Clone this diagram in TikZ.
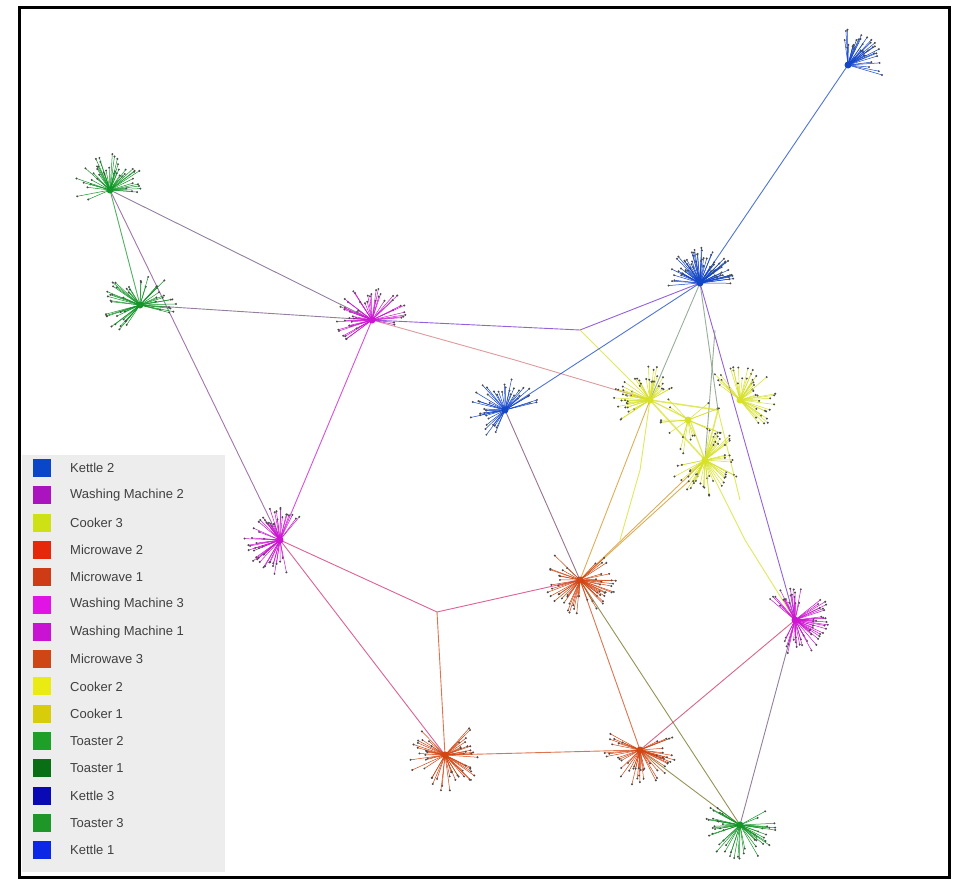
\documentclass[tikz,border=0pt]{standalone}
\usepackage{fontspec}
\setmainfont{Liberation Sans}
\begin{document}
\begin{tikzpicture}[x=1pt,y=-1pt,
  leaf/.style={circle,fill=black!70,inner sep=0pt,minimum size=2.2pt},
  link/.style={line width=0.9pt,opacity=0.75},
  swatch/.style={minimum width=18pt,minimum height=18pt,inner sep=0pt,anchor=west},
  lab/.style={anchor=west,font=\fontsize{13}{15}\selectfont,text=black!75,inner sep=0pt}]
\definecolor{kb}{RGB}{20,70,200}
\definecolor{wm}{RGB}{205,20,210}
\definecolor{ck}{RGB}{215,225,40}
\definecolor{mw}{RGB}{210,70,20}
\definecolor{ts}{RGB}{20,150,40}
\useasboundingbox (0,0) rectangle (957,884);
\fill[white] (0,0) rectangle (957,884);
\draw[line width=3pt] (19,7) rectangle (949,877);
\pgfmathsetseed{7}
% name, x, y, colour, count, direction, half-spread
\newcommand\fan[7]{%
  \coordinate (#1) at (#2,#3);
  \foreach \i in {1,...,#5}{%
    \pgfmathsetmacro\a{#6+(rand*#7)}%
    \pgfmathsetmacro\r{16+rnd*20}%
    \draw[#4,line width=0.5pt] (#1) -- ++(\a:\r pt) node[leaf]{};}%
  \fill[#4] (#1) circle (3.5pt);}
% junctions
\coordinate (ja) at (580,330);
\coordinate (jb) at (437,612);
\coordinate (jc) at (515,360);
% edges
\begin{scope}[link]
\draw[kb] (848,65) -- (700,283);
\draw[ts] (110,190) -- (140,305);
\draw[ts!50!wm] (110,190) -- (372,320);
\draw[ts!50!wm] (140,305) -- (372,320);
\draw[ts!40!wm] (110,190) -- (280,540);
\draw[wm] (372,320) -- (280,540);
\draw[wm!50!kb] (372,320) -- (ja) -- (700,283);
\draw[wm!50!ck] (372,320) -- (jc) -- (650,400);
\draw[ck] (ja) -- (650,400);
\draw[kb] (700,283) -- (505,410);
\draw[kb!50!ck] (700,283) -- (650,400);
\draw[kb!50!ck] (700,283) -- (718,410);
\draw[kb!50!wm] (700,283) -- (795,620);
\draw[kb!50!ck] (715,330) -- (705,460);
\draw[ck,line width=1.5pt] (650,400) -- (718,410) -- (705,460) -- (650,400);
\draw[ck,line width=1.2pt] (650,400) -- (690,420) -- (705,460);
\draw[ck] (650,400) -- (640,470) -- (620,540);
\draw[ck] (705,460) -- (745,540) -- (795,620);
\draw[ck] (718,410) -- (740,500);
\draw[kb!50!mw] (505,410) -- (580,580);
\draw[wm!50!mw] (280,540) -- (jb) -- (580,580);
\draw[wm!50!mw] (280,540) -- (445,755);
\draw[mw] (jb) -- (445,755);
\draw[mw] (445,755) -- (640,750);
\draw[mw] (580,580) -- (640,750);
\draw[mw!50!ts] (580,580) -- (740,825);
\draw[mw!50!ck] (580,580) -- (650,400);
\draw[mw!50!ck] (580,580) -- (705,460);
\draw[mw!50!ck] (580,580) -- (690,480);
\draw[mw!60!wm] (640,750) -- (795,620);
\draw[mw!50!ts] (640,750) -- (740,825);
\draw[wm!50!ts] (795,620) -- (740,825);
\end{scope}
% fans
\fan{k1}{848}{65}{kb}{35}{40}{70}
\fan{t1}{110}{190}{ts}{45}{100}{110}
\fan{t2}{140}{305}{ts}{50}{110}{130}
\fan{w2}{372}{320}{wm}{50}{100}{120}
\fan{k2}{700}{283}{kb}{70}{90}{95}
\fan{k3}{505}{410}{kb}{45}{130}{120}
\fan{c1}{650}{400}{ck}{45}{120}{100}
\fan{c2}{740}{400}{ck}{40}{40}{110}
\fan{c3}{705}{460}{ck}{50}{-40}{130}
\fan{c4}{688}{420}{ck}{18}{0}{180}
\fan{w1}{280}{540}{wm}{55}{170}{120}
\fan{m1}{580}{580}{mw}{55}{-90}{140}
\fan{w3}{795}{620}{wm}{60}{10}{130}
\fan{m3}{445}{755}{mw}{55}{-90}{140}
\fan{m2}{640}{750}{mw}{50}{-90}{130}
\fan{t3}{740}{825}{ts}{50}{-90}{130}
% legend
\fill[black!7] (22,455) rectangle (225,872);
\foreach \n/\c/\t [count=\k from 0] in {
 a/{10,70,200}/Kettle 2,
 b/{170,20,190}/Washing Machine 2,
 c/{205,225,20}/Cooker 3,
 d/{230,40,10}/Microwave 2,
 e/{205,60,20}/Microwave 1,
 f/{225,20,230}/Washing Machine 3,
 g/{200,20,210}/Washing Machine 1,
 h/{205,70,20}/Microwave 3,
 i/{235,235,20}/Cooker 2,
 j/{215,205,10}/Cooker 1,
 k/{30,160,40}/Toaster 2,
 l/{10,110,20}/Toaster 1,
 m/{10,10,180}/Kettle 3,
 n/{30,150,40}/Toaster 3,
 o/{10,40,230}/Kettle 1}{
  \definecolor{sw\n}{RGB}{\c}
  \node[swatch,fill=sw\n] (s\n) at (33,{468+27.3*\k}) {};
  \node[lab] (l\n) at (70,{468+27.3*\k}) {\t};
}
\end{tikzpicture}
\end{document}
